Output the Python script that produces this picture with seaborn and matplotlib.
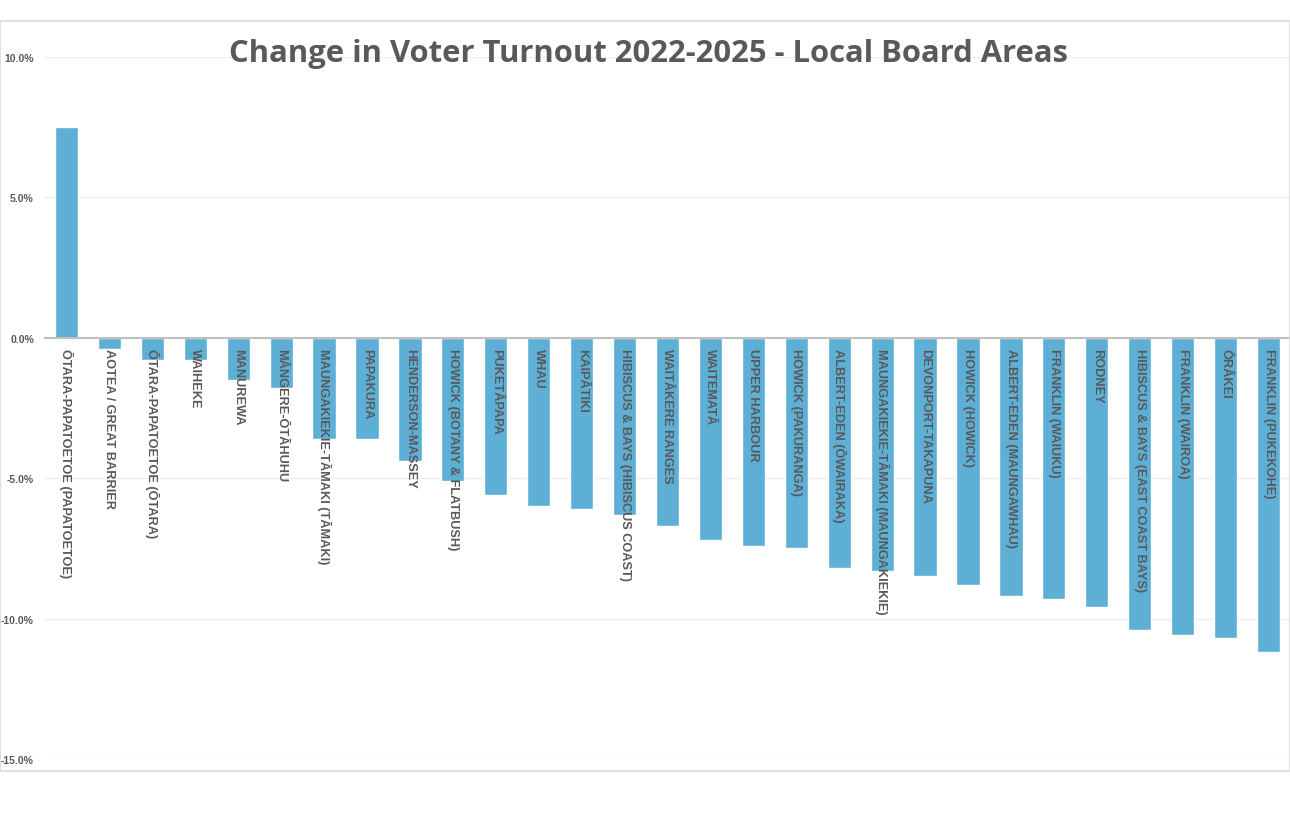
import matplotlib
matplotlib.use("Agg")
import matplotlib.pyplot as plt
import seaborn as sns
import pandas as pd
from matplotlib.ticker import FuncFormatter
from matplotlib.patches import Rectangle

areas = [
    "ŌTARA-PAPATOETOE (PAPATOETOE)", "AOTEA / GREAT BARRIER", "ŌTARA-PAPATOETOE (ŌTARA)",
    "WAIHEKE", "MANUREWA", "MĀNGERE-ŌTĀHUHU", "MAUNGAKIEKIE-TĀMAKI (TĀMAKI)", "PAPAKURA",
    "HENDERSON-MASSEY", "HOWICK (BOTANY & FLATBUSH)", "PUKETĀPAPA", "WHAU", "KAIPĀTIKI",
    "HIBISCUS & BAYS (HIBISCUS COAST)", "WAITĀKERE RANGES", "WAITEMATĀ", "UPPER HARBOUR",
    "HOWICK (PAKURANGA)", "ALBERT-EDEN (ŌWAIRAKA)", "MAUNGAKIEKIE-TĀMAKI (MAUNGAKIEKIE)",
    "DEVONPORT-TAKAPUNA", "HOWICK (HOWICK)", "ALBERT-EDEN (MAUNGAWHAU)", "FRANKLIN (WAIUKU)",
    "RODNEY", "HIBISCUS & BAYS (EAST COAST BAYS)", "FRANKLIN (WAIROA)", "ŌRĀKEI",
    "FRANKLIN (PUKEKOHE)",
]
change_pct = [
    7.5, -0.4, -0.8, -0.8, -1.5, -1.8, -3.6, -3.6, -4.4, -5.1, -5.6, -6.0, -6.1, -6.3,
    -6.7, -7.2, -7.4, -7.5, -8.2, -8.3, -8.5, -8.8, -9.2, -9.3, -9.6, -10.4, -10.6,
    -10.7, -11.2,
]
y_ticks = [-15, -10, -5, 0, 5, 10]
title = "Change in Voter Turnout 2022-2025 - Local Board Areas"

df = pd.DataFrame({"area": areas, "change": change_pct})

sns.set_theme(style="white")
plt.rcParams["font.family"] = ["Liberation Sans Narrow", "Liberation Sans", "DejaVu Sans"]

fig = plt.figure(figsize=(12.9, 8.29), dpi=100)
ax = fig.add_axes([45 / 1290, 1 - 760 / 829, 1 - 45 / 1290, (760 - 58) / 829])

sns.barplot(data=df, x="area", y="change", color="#5DAFD6", saturation=1,
            width=0.54, ax=ax, order=areas, zorder=2)

ax.set_ylim(-15, 10)
ax.set_xlim(-0.5, len(areas) - 0.5)
ax.set_yticks(y_ticks)
ax.yaxis.set_major_formatter(FuncFormatter(lambda v, p: f"{v:.1f}%"))
ax.grid(False)
for t in y_ticks:
    if t != 0:
        ax.axhline(t, color="#efefef", linewidth=1.0, zorder=0)
ax.set_axisbelow(False)
ax.xaxis.set_zorder(10)
ax.set_xlabel("")
ax.set_ylabel("")

for s in ["top", "right", "left"]:
    ax.spines[s].set_visible(False)
ax.spines["bottom"].set_position(("data", 0))
ax.spines["bottom"].set_color("#bfbfbf")
ax.spines["bottom"].set_linewidth(1.5)
ax.spines["bottom"].set_zorder(5)

ax.tick_params(axis="x", length=0, pad=7)
ax.tick_params(axis="y", length=0, pad=8)
for lbl in ax.get_xticklabels():
    lbl.set_rotation(-90)
    lbl.set_ha("center")
    lbl.set_va("top")
    lbl.set_fontsize(9.2)
    lbl.set_fontweight("bold")
    lbl.set_color("#595959")
for lbl in ax.get_yticklabels():
    lbl.set_fontsize(7.5)
    lbl.set_fontweight("bold")
    lbl.set_color("#595959")
    lbl.set_family(["Liberation Sans", "DejaVu Sans"])

fig.text(648 / 1290, 1 - 54 / 829, title, ha="center", va="center", fontsize=22.3,
         fontweight="bold", color="#595959", family=["Open Sans", "DejaVu Sans"])

fig.patches.append(Rectangle((0, 1 - 772 / 829), 1, (772 - 22) / 829,
                             transform=fig.transFigure, fill=False,
                             edgecolor="#d9d9d9", linewidth=1.2))

fig.savefig("out.png", dpi=100)
